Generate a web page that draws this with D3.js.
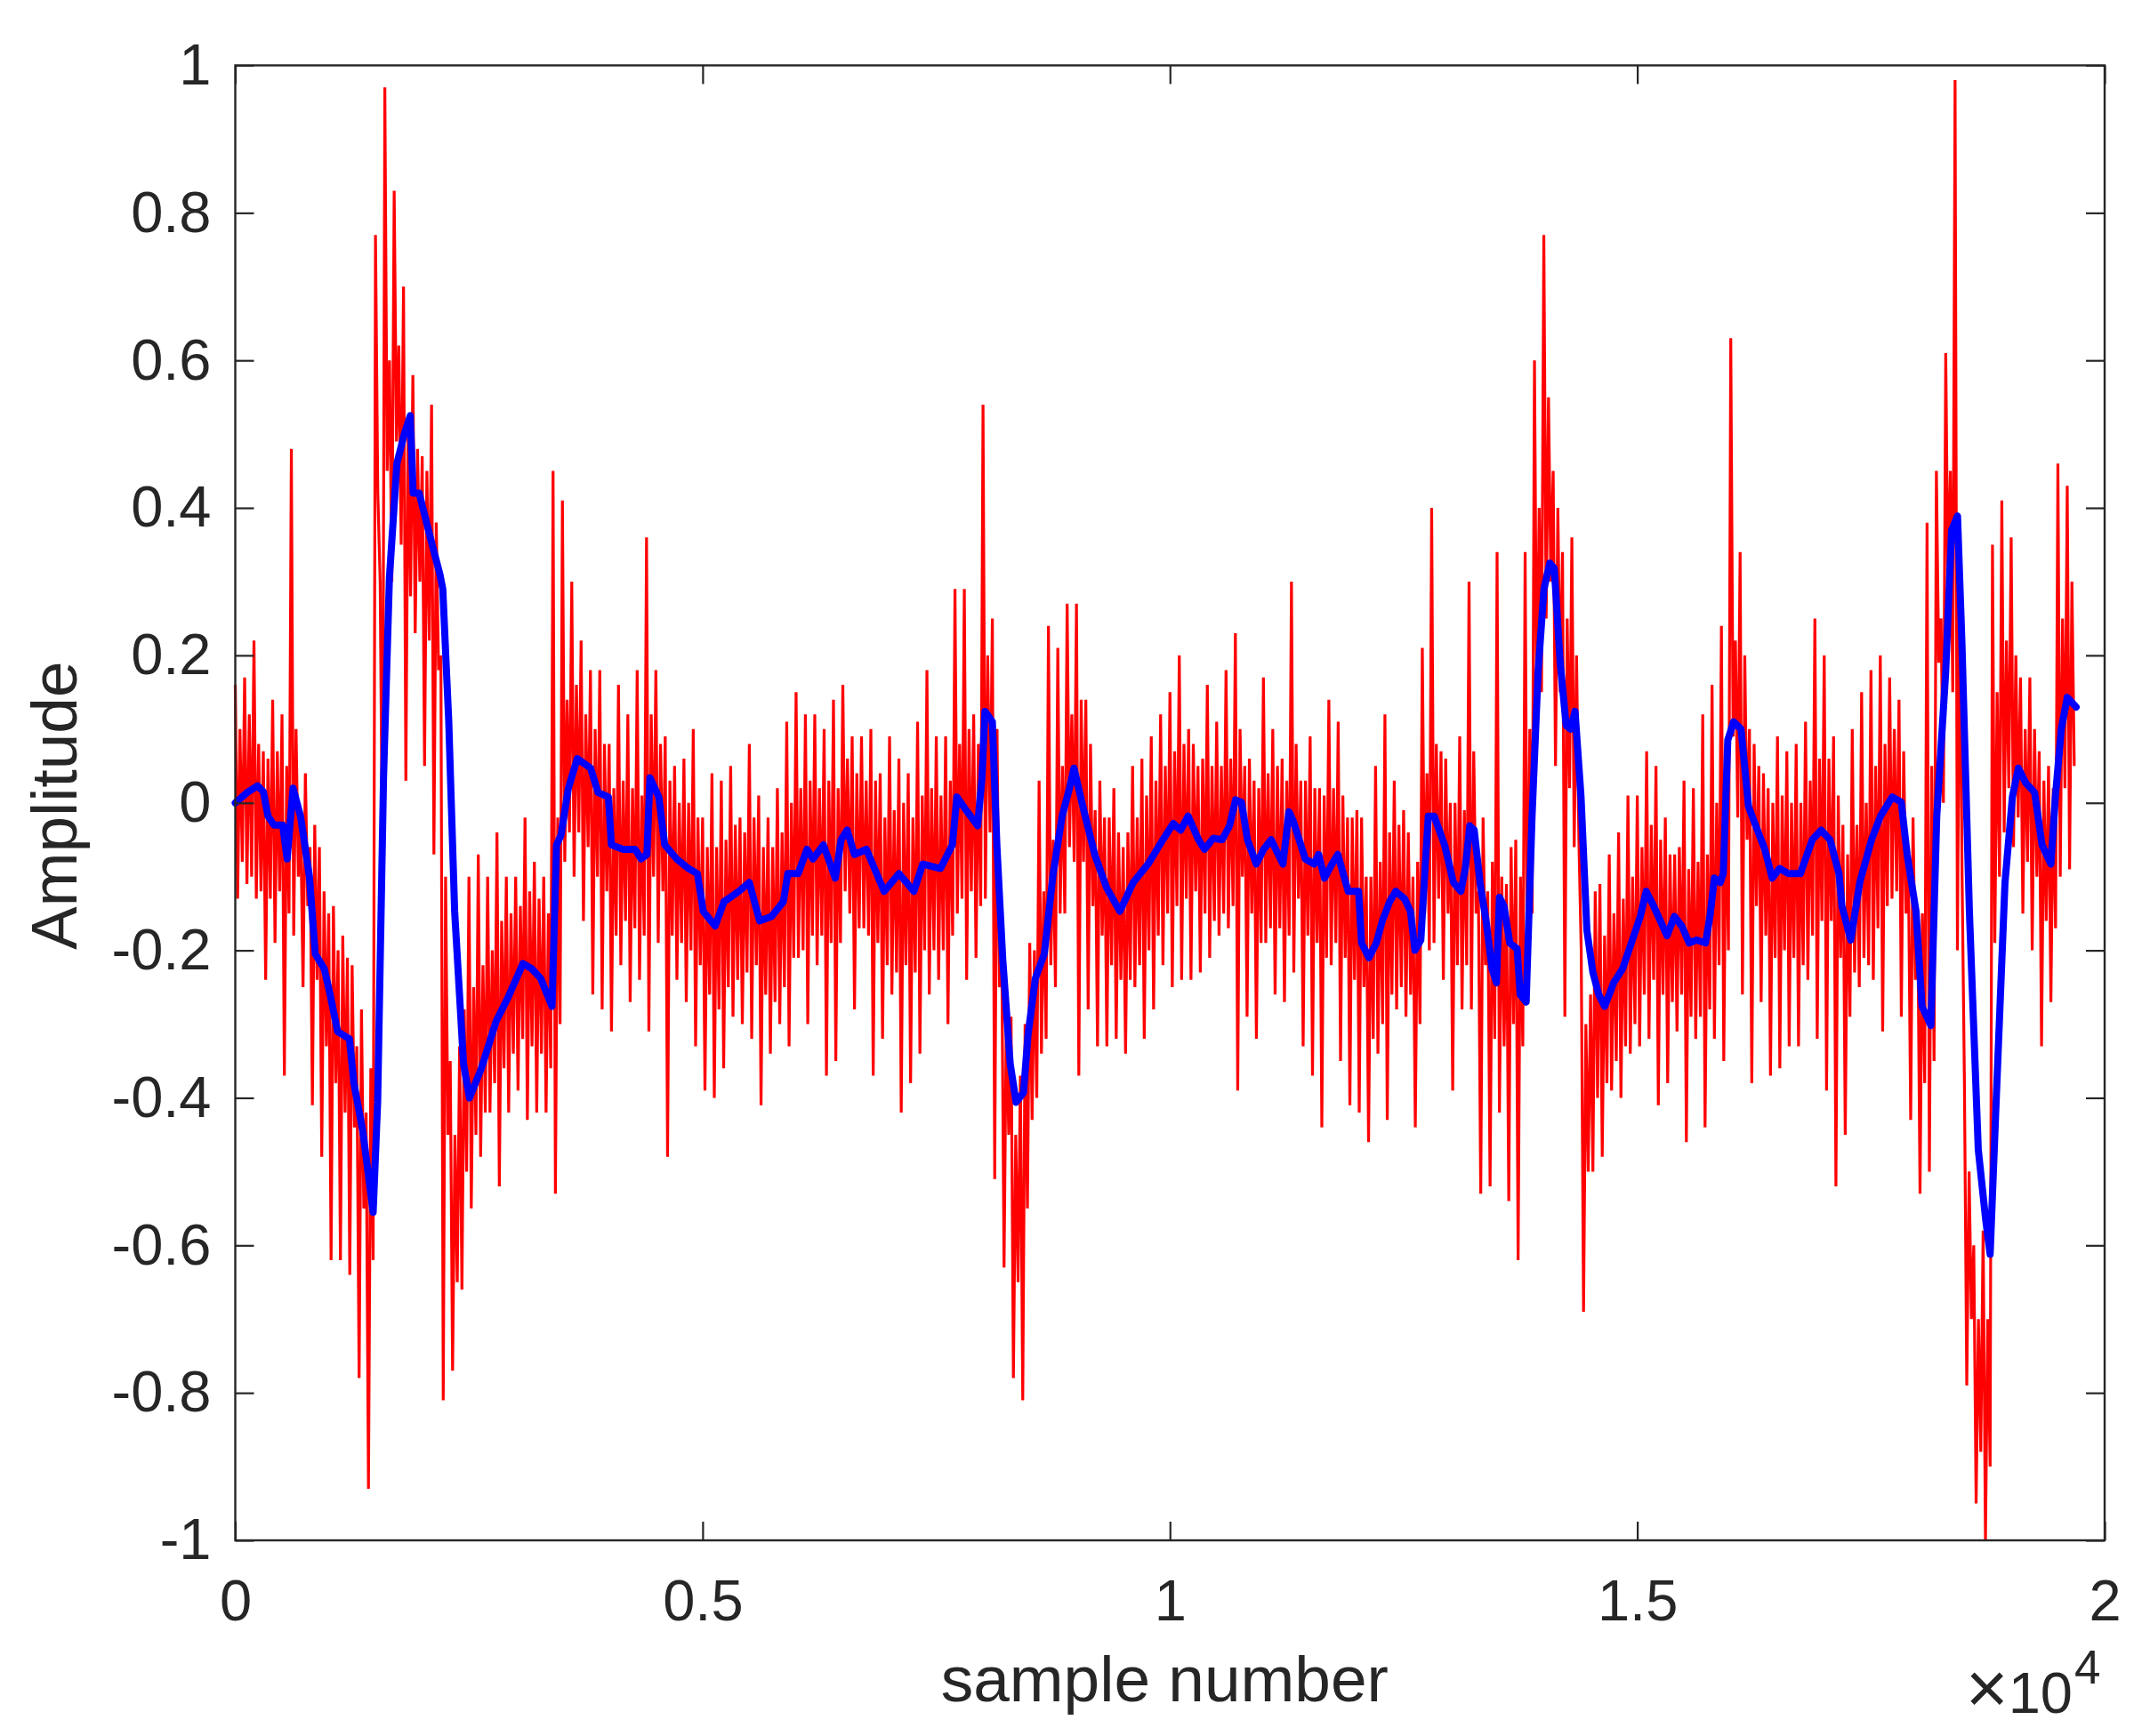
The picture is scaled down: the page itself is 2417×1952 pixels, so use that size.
<!DOCTYPE html>
<html>
<head>
<meta charset="utf-8">
<script src="https://cdn.jsdelivr.net/npm/d3@7"></script>
<style>
  html, body { margin: 0; padding: 0; background: #fff; }
  text { font-family: 'Liberation Sans', Arial, Helvetica, sans-serif; fill: #262626; }
</style>
</head>
<body>
<div id="chart"></div>
<script>
// red: raw signal, read every 100 samples as outer spike high/low and the inner dense band high/low
const SAMPLE_STEP = 100
const redHigh = [
  .16, .17, .22, .07, .14, .12, .48, -.03, -.06, -.06,
  -.15, -.20, -.21, -.33, -.42, .77, .97, .83, .70, .58,
  .47, .54, .20, -.35, -.33, -.10, -.07, -.10, -.04, -.10,
  -.10, -.02, -.08, -.10, .45, .41, .30, .22, .18, .18,
  .08, .16, .12, .18, .36, .18, .09, .05, .06, .10,
  -.02, .04, .03, .05, -.02, .08, .01, -.02, .02, .11,
  .15, .12, .12, .10, .14, .16, .09, .09, .10, .04,
  .09, .06, .04, .11, .18, .09, .09, .29, .29, .12,
  .54, .25, -.19, -.29, -.37, -.19, .03, .24, .21, .27,
  .27, .14, -.01, -.02, .02, -.06, .05, .06, .09, .12,
  .15, .20, .10, .05, .16, .11, .18, .23, .05, .03,
  .17, .10, .06, .30, .03, .09, .02, .14, .11, -.02,
  -.01, -.10, .05, .12, .03, -.01, -.10, .21, .40, .07,
  .00, .09, .30, -.12, -.12, .34, -.11, -.05, .34, .60,
  .77, .45, .34, .36, -.20, -.26, -.11, -.07, -.04, .01,
  .01, .07, .05, -.02, -.07, .03, .02, .12, .16, .24,
  .63, .34, .10, .05, .02, .09, .07, .08, .11, .25,
  .20, .09, -.03, .10, .15, .18, .20, .17, .14, -.08,
  -.15, .38, .45, .61, .98, -.38, -.60, -.58, .35, .41,
  .36, .17, .17, .07, .05, .46, .43
]
const redLow = [
  -.13, -.11, -.13, -.24, -.19, -.37, -.18, -.25, -.41, -.48,
  -.62, -.62, -.64, -.78, -.93, .42, .45, .49, .03, .23,
  .05, -.07, -.81, -.77, -.66, -.55, -.48, -.42, -.52, -.42,
  -.39, -.43, -.42, -.42, -.53, -.08, -.10, -.16, -.26, -.28,
  -.31, -.22, -.27, -.24, -.31, -.19, -.48, -.24, -.27, -.33,
  -.39, -.40, -.36, -.29, -.30, -.32, -.41, -.34, -.30, -.33,
  -.21, -.30, -.22, -.37, -.35, -.12, -.28, -.17, -.37, -.32,
  -.26, -.42, -.38, -.34, -.26, -.24, -.30, -.15, -.24, -.21,
  -.13, -.51, -.63, -.78, -.81, -.43, -.34, -.22, -.15, -.06,
  -.37, -.28, -.33, -.33, -.32, -.34, -.25, -.32, -.28, -.22,
  -.25, -.24, -.24, -.23, -.21, -.18, -.17, -.39, -.29, -.32,
  -.19, -.26, -.27, -.23, -.33, -.37, -.44, -.22, -.35, -.41,
  -.42, -.46, -.34, -.43, -.28, -.29, -.44, -.15, -.19, -.24,
  -.39, -.28, -.28, -.53, -.52, -.42, -.54, -.62, -.26, .11,
  .25, .05, -.29, -.06, -.69, -.50, -.48, -.39, -.40, -.34,
  -.33, -.32, -.41, -.38, -.31, -.46, -.32, -.44, -.32, -.35,
  .09, -.26, -.38, -.27, -.37, -.36, -.33, -.33, -.24, -.32,
  -.39, -.52, -.45, -.23, -.21, -.24, -.31, -.13, -.29, -.43,
  -.53, -.50, .19, .28, -.20, -.79, -.95, -1.0, -.19, -.04,
  -.06, -.15, -.20, -.33, -.27, -.10, -.09
]
const redBandHigh = [
  .10, .12, .08, .06, .07, .05, .10, .04, -.03, -.12,
  -.14, -.18, -.22, -.28, -.36, .30, .60, .62, .52, .48,
  .45, .38, -.10, -.45, -.28, -.25, -.22, -.20, -.16, -.15,
  -.14, -.12, -.13, -.15, -.02, .14, .16, .12, .10, .08,
  .02, .03, .02, .01, .12, .08, .03, .00, .00, -.02,
  -.06, -.06, -.05, -.03, -.04, -.02, -.06, -.06, -.04, .00,
  .02, .03, .02, .03, .02, .06, .04, .03, .03, -.02,
  -.01, .00, -.02, .01, .02, .01, .03, .08, .10, .08,
  .20, .10, -.28, -.45, -.30, -.20, -.12, -.05, .05, .12,
  .14, .08, .03, -.02, -.04, -.04, -.02, .01, .03, .05,
  .07, .08, .08, .06, .05, .05, .06, .10, .06, .02,
  .04, .05, .03, .08, .03, .02, .01, .02, .01, -.02,
  -.02, -.10, -.08, -.04, -.03, -.04, -.08, .04, .08, .06,
  .00, -.01, .07, -.02, -.08, -.10, -.06, -.10, .10, .40,
  .55, .40, .25, .20, -.30, -.12, -.18, -.15, -.13, -.10,
  -.06, -.03, -.05, -.07, -.06, -.09, -.08, -.07, .00, .02,
  .22, .20, .08, .04, .00, .01, .00, .00, .03, .06,
  .06, .01, -.07, -.03, .00, .05, .08, .10, .07, -.02,
  -.15, .05, .25, .45, .30, -.50, -.70, -.70, .15, .22,
  .20, .10, .10, .03, .02, .25, .30
]
const redBandLow = [
  -.08, -.10, -.12, -.13, -.12, -.15, -.10, -.14, -.24, -.33,
  -.38, -.42, -.44, -.55, -.62, -.10, .30, .35, .28, .30,
  .22, .18, -.45, -.65, -.50, -.45, -.42, -.38, -.36, -.34,
  -.32, -.33, -.34, -.36, -.30, -.04, -.04, -.06, -.10, -.12,
  -.18, -.16, -.17, -.18, -.10, -.12, -.18, -.19, -.20, -.22,
  -.26, -.28, -.25, -.24, -.23, -.22, -.26, -.27, -.25, -.21,
  -.20, -.18, -.18, -.19, -.19, -.15, -.17, -.18, -.19, -.22,
  -.23, -.22, -.23, -.20, -.20, -.20, -.18, -.13, -.12, -.14,
  -.04, -.25, -.45, -.65, -.55, -.40, -.32, -.25, -.15, -.08,
  -.08, -.14, -.18, -.22, -.24, -.24, -.22, -.20, -.18, -.15,
  -.14, -.13, -.12, -.15, -.16, -.15, -.14, -.10, -.15, -.19,
  -.17, -.17, -.18, -.13, -.18, -.19, -.21, -.19, -.21, -.24,
  -.25, -.32, -.30, -.26, -.25, -.26, -.30, -.20, -.13, -.15,
  -.22, -.22, -.15, -.22, -.32, -.33, -.30, -.33, -.15, .15,
  .30, .15, .02, -.05, -.50, -.40, -.38, -.35, -.33, -.30,
  -.26, -.24, -.26, -.27, -.26, -.29, -.29, -.28, -.22, -.20,
  -.02, -.05, -.14, -.18, -.21, -.20, -.21, -.22, -.18, -.16,
  -.16, -.21, -.29, -.25, -.22, -.17, -.14, -.12, -.15, -.24,
  -.38, -.35, .00, .15, -.10, -.70, -.88, -.90, -.10, .02,
  -.02, -.08, -.10, -.16, -.17, .02, .05
]

// blue: smoothed signal
const blueX = [
  0, 126, 238, 300, 350, 412, 507, 555, 618, 698, 793, 856, 952, 1015, 1094, 1221, 1269, 1364, 1475, 1523,
  1586, 1649, 1729, 1808, 1872, 1903, 1967, 2094, 2189, 2220, 2284, 2347, 2442, 2506, 2633, 2791, 2918, 3077, 3172, 3267,
  3389, 3437, 3485, 3564, 3659, 3802, 3881, 3992, 4024, 4151, 4278, 4341, 4404, 4436, 4531, 4595, 4722, 4849, 4944, 5007,
  5134, 5229, 5388, 5499, 5610, 5737, 5864, 5911, 6022, 6117, 6181, 6292, 6419, 6482, 6546, 6625, 6752, 6942, 7101, 7260,
  7355, 7545, 7672, 7720, 7831, 7942, 7989, 8021, 8100, 8148, 8211, 8291, 8354, 8433, 8481, 8560, 8655, 8750, 8846, 8925,
  8973, 9068, 9195, 9322, 9464, 9607, 9766, 9924, 10036, 10115, 10194, 10305, 10369, 10464, 10559, 10638, 10702, 10765, 10829, 10924,
  11003, 11082, 11209, 11273, 11320, 11447, 11542, 11590, 11653, 11733, 11796, 11907, 12018, 12050, 12129, 12208, 12272, 12351, 12415, 12510,
  12573, 12621, 12684, 12732, 12764, 12827, 12938, 13033, 13112, 13160, 13208, 13255, 13319, 13382, 13446, 13493, 13525, 13573, 13636, 13715,
  13747, 13811, 13874, 13938, 14001, 14064, 14112, 14175, 14239, 14287, 14334, 14398, 14461, 14525, 14588, 14651, 14747, 14842, 14937, 15032,
  15095, 15175, 15318, 15397, 15476, 15555, 15635, 15730, 15777, 15825, 15888, 15920, 15968, 16031, 16110, 16190, 16285, 16364, 16443, 16523,
  16618, 16745, 16872, 16967, 17062, 17158, 17189, 17284, 17380, 17506, 17602, 17728, 17824, 17887, 17982, 18046, 18141, 18204, 18299, 18363,
  18426, 18474, 18553, 18648, 18728, 18775, 18839, 18934, 19013, 19077, 19156, 19251, 19330, 19425, 19473, 19536, 19600, 19695
]
const blueY = [
  0, .014, .023, .015, -.018, -.03, -.03, -.076, .02, -.018, -.1, -.205, -.225, -.26, -.31, -.32, -.38, -.445, -.555, -.406,
  .033, .305, .46, .5, .525, .42, .42, .356, .31, .29, .11, -.147, -.354, -.4, -.36, -.296, -.264, -.218, -.225, -.238,
  -.276, -.057, -.044, .02, .06, .047, .014, .008, -.057, -.063, -.063, -.076, -.07, .034, .008, -.057, -.076, -.089, -.096, -.147,
  -.167, -.134, -.12, -.108, -.16, -.154, -.134, -.096, -.096, -.063, -.076, -.057, -.102, -.05, -.037, -.07, -.063, -.12, -.096, -.12,
  -.083, -.089, -.057, .008, -.012, -.031, .034, .124, .11, -.057, -.212, -.354, -.406, -.393, -.315, -.238, -.205, -.096, -.018, .02,
  .047, -.005, -.07, -.115, -.147, -.108, -.083, -.05, -.028, -.037, -.018, -.05, -.063, -.048, -.05, -.031, .004, .001, -.05, -.083,
  -.063, -.05, -.083, -.012, -.025, -.076, -.083, -.07, -.102, -.083, -.07, -.12, -.12, -.19, -.21, -.19, -.16, -.134, -.12, -.13,
  -.147, -.2, -.186, -.083, -.018, -.018, -.057, -.108, -.12, -.089, -.031, -.037, -.11, -.16, -.225, -.244, -.128, -.14, -.19, -.198,
  -.26, -.27, -.018, .176, .29, .325, .318, .19, .105, .1, .124, .008, -.173, -.23, -.26, -.276, -.244, -.225, -.19, -.154,
  -.12, -.14, -.18, -.154, -.167, -.19, -.186, -.19, -.154, -.102, -.108, -.096, .085, .11, .1, -.005, -.037, -.063, -.102, -.089,
  -.096, -.096, -.05, -.037, -.05, -.096, -.14, -.186, -.108, -.05, -.018, .008, .001, -.07, -.147, -.276, -.302, -.018, .176, .37,
  .389, .214, -.147, -.47, -.566, -.612, -.406, -.108, .008, .047, .027, .014, -.057, -.083, .008, .1, .143, .13
]

const xTicks = [0, 5000, 10000, 15000, 20000]
const yTicks = [-1, -0.8, -0.6, -0.4, -0.2, 0, 0.2, 0.4, 0.6, 0.8, 1]
const X_EXPONENT = 4

const width = 2417
const height = 1952
const PADDING = {top: 73.5, right: 51, bottom: 220, left: 264.5}
const TICK = 21
const FONT_SIZE = 65
const LABEL_SIZE = 73
const AXIS_COLOR = '#262626'

const xScale = d3.scaleLinear().domain([0, 20000]).range([PADDING.left, width - PADDING.right])
const yScale = d3.scaleLinear().domain([-1, 1]).range([height - PADDING.bottom, PADDING.top])

const svg = d3.select('#chart')
  .append('svg')
  .attr('width', width)
  .attr('height', height)

svg.append('rect').attr('width', width).attr('height', height).attr('fill', '#fff')

// spike high -> spike low -> band high -> band low, every 100 samples
const redData = []
redHigh.forEach((v, i) => {
  const s = i * SAMPLE_STEP
  redData.push([s, v])
  redData.push([s + SAMPLE_STEP / 4, redLow[i]])
  redData.push([s + SAMPLE_STEP / 2, redBandHigh[i]])
  redData.push([s + SAMPLE_STEP * 3 / 4, redBandLow[i]])
})
const blueData = blueX.map((x, i) => [x, blueY[i]])

const line = d3.line().x(d => xScale(d[0])).y(d => yScale(d[1]))

svg.append('path')
  .datum(redData)
  .attr('d', line)
  .attr('fill', 'none')
  .attr('stroke', '#ff0000')
  .attr('stroke-width', 3.2)

svg.append('path')
  .datum(blueData)
  .attr('d', line)
  .attr('fill', 'none')
  .attr('stroke', '#0000ff')
  .attr('stroke-width', 8)
  .attr('stroke-linejoin', 'round')
  .attr('stroke-linecap', 'round')

const fmtY = d => String(+d.toFixed(1))
const fmtX = d => String(d / Math.pow(10, X_EXPONENT))

function styleAxis (g) {
  g.select('.domain').remove()
  g.selectAll('.tick line').attr('stroke', AXIS_COLOR).attr('stroke-width', 2.2)
  g.selectAll('.tick text').attr('font-size', FONT_SIZE).attr('fill', AXIS_COLOR)
}

svg.append('g')
  .attr('transform', `translate(0, ${height - PADDING.bottom})`)
  .call(d3.axisBottom(xScale).tickValues(xTicks).tickFormat(fmtX).tickSizeInner(-TICK).tickSizeOuter(0).tickPadding(44))
  .call(styleAxis)

svg.append('g')
  .attr('transform', `translate(0, ${PADDING.top})`)
  .call(d3.axisTop(xScale).tickValues(xTicks).tickFormat('').tickSizeInner(-TICK).tickSizeOuter(0))
  .call(styleAxis)

svg.append('g')
  .attr('transform', `translate(${PADDING.left}, 0)`)
  .call(d3.axisLeft(yScale).tickValues(yTicks).tickFormat(fmtY).tickSizeInner(-TICK).tickSizeOuter(0).tickPadding(27))
  .call(styleAxis)

svg.append('g')
  .attr('transform', `translate(${width - PADDING.right}, 0)`)
  .call(d3.axisRight(yScale).tickValues(yTicks).tickFormat('').tickSizeInner(-TICK).tickSizeOuter(0))
  .call(styleAxis)

svg.append('rect')
  .attr('x', PADDING.left).attr('y', PADDING.top)
  .attr('width', width - PADDING.left - PADDING.right)
  .attr('height', height - PADDING.top - PADDING.bottom)
  .attr('fill', 'none').attr('stroke', AXIS_COLOR).attr('stroke-width', 2.4)

// axis labels
svg.append('text')
  .attr('x', (PADDING.left + width - PADDING.right) / 2 - 6)
  .attr('y', 1913)
  .attr('text-anchor', 'middle')
  .attr('font-size', LABEL_SIZE)
  .text('sample number')

svg.append('text')
  .attr('transform', `translate(86, ${(PADDING.top + height - PADDING.bottom) / 2 + 3}) rotate(-90)`)
  .attr('text-anchor', 'middle')
  .attr('font-size', LABEL_SIZE)
  .text('Amplitude')

// x10^4 multiplier
const mult = svg.append('text')
  .attr('x', 2330).attr('y', 1926)
  .attr('text-anchor', 'end')
  .attr('font-size', FONT_SIZE)
mult.append('tspan').attr('font-size', 82).text('×')
mult.append('tspan').text('10')

svg.append('text')
  .attr('x', 2332).attr('y', 1893)
  .attr('font-size', 53)
  .text(X_EXPONENT)
</script>
</body>
</html>
